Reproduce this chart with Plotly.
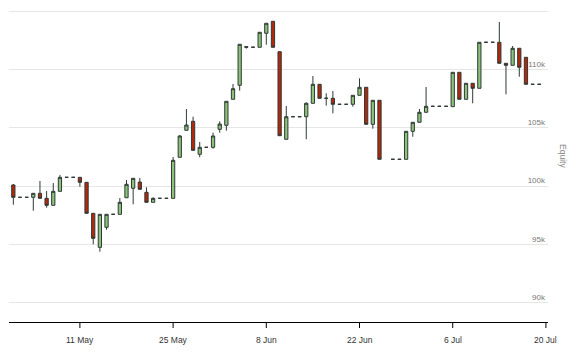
import plotly.graph_objects as go

dates = [
    "2025-05-01", "2025-05-02", "2025-05-03", "2025-05-04", "2025-05-05", "2025-05-06", "2025-05-07",
    "2025-05-08", "2025-05-09", "2025-05-10", "2025-05-11", "2025-05-12", "2025-05-13", "2025-05-14",
    "2025-05-15", "2025-05-16", "2025-05-17", "2025-05-18", "2025-05-19", "2025-05-20", "2025-05-21",
    "2025-05-22", "2025-05-23", "2025-05-24", "2025-05-25", "2025-05-26", "2025-05-27", "2025-05-28",
    "2025-05-29", "2025-05-30", "2025-05-31", "2025-06-01", "2025-06-02", "2025-06-03", "2025-06-04",
    "2025-06-05", "2025-06-06", "2025-06-07", "2025-06-08", "2025-06-09", "2025-06-10", "2025-06-11",
    "2025-06-12", "2025-06-13", "2025-06-14", "2025-06-15", "2025-06-16", "2025-06-17", "2025-06-18",
    "2025-06-19", "2025-06-20", "2025-06-21", "2025-06-22", "2025-06-23", "2025-06-24", "2025-06-25",
    "2025-06-27", "2025-06-28", "2025-06-29", "2025-06-30", "2025-07-01", "2025-07-02",
    "2025-07-03", "2025-07-04", "2025-07-05", "2025-07-06", "2025-07-07", "2025-07-08", "2025-07-09",
    "2025-07-10", "2025-07-11", "2025-07-12", "2025-07-13", "2025-07-14", "2025-07-15", "2025-07-16",
    "2025-07-17", "2025-07-18", "2025-07-19",
]

open_ = [
    100086, 99031, 99031, 99031, 99374, 98945, 98345,
    99545, 100746, 100746, 100746, 100317, 97659, 94743,
    96458, 97573, 97573, 98997, 99803, 100343, 99460,
    98602, 98945, 98945, 98945, 102461, 104777, 105549,
    102719, 103319, 103319, 104863, 105206, 107435, 108636,
    111950, 111900, 111895, 113096, 114125, 111518, 104005,
    105943, 105943, 105943, 107092, 108722, 107521, 107521,
    107006, 107006, 107006, 107778, 108465, 105291, 107350,
    102290, 102290, 102290, 104691, 105463, 106320,
    106835, 106835, 106835, 106801, 109751, 107435, 108808,
    108379, 112324, 112324, 112324, 110523, 110351, 111809,
    111037, 108722, 108722,
]

high = [
    100172, 99031, 99031, 99374, 100429, 99571, 100257,
    100943, 100746, 100746, 100746, 100317, 97659, 97573,
    97573, 97573, 98971, 100515, 100660, 100686, 99889,
    99031, 98945, 98945, 102487, 104374, 106603, 105943,
    103773, 103319, 104571, 105549, 107264, 108748, 112152,
    111950, 111900, 113181, 113953, 114125, 111518, 106861,
    105943, 105943, 107178, 109434, 108722, 107950, 108147,
    107006, 107006, 107778, 109236, 108465, 107350, 107350,
    102290, 102290, 104691, 105463, 106603, 108490,
    106835, 106835, 106835, 109751, 109751, 108808, 108808,
    112324, 112324, 112324, 114065, 110523, 112006, 111809,
    111037, 108722, 108722,
]

low = [
    98396, 99031, 99031, 97882, 98945, 98139, 98345,
    99545, 100746, 100746, 99940, 97659, 95000, 94366,
    96252, 97573, 97573, 98997, 98431, 99717, 98602,
    98602, 98945, 98945, 98945, 102461, 104777, 103062,
    102461, 103319, 103199, 104571, 104743, 107435, 108173,
    111780, 111900, 111895, 112118, 111895, 104314, 104005,
    105943, 105943, 104005, 107092, 107521, 106887, 106235,
    107006, 107006, 106801, 107778, 105291, 104914, 102290,
    102290, 102290, 102290, 104228, 105463, 106320,
    106835, 106835, 106835, 106801, 107435, 107435, 107092,
    108379, 112324, 112324, 110523, 107864, 110351, 109374,
    108722, 108722, 108722,
]

close = [
    99031, 99031, 99031, 99374, 98945, 98345, 99545,
    100746, 100746, 100746, 100317, 97659, 95515, 97573,
    97573, 97573, 98602, 100146, 100660, 99717, 98602,
    98945, 98945, 98945, 102204, 104288, 105231, 103062,
    103319, 103319, 104288, 105317, 107264, 108344, 112152,
    111900, 111900, 113181, 113953, 111895, 104314, 105943,
    105943, 105943, 107092, 108722, 107521, 107521, 107006,
    107006, 107006, 107778, 108465, 105291, 107350, 102290,
    102290, 102290, 104691, 105463, 106320, 106835,
    106835, 106835, 106835, 109751, 107435, 108808, 108379,
    112324, 112324, 112324, 110523, 110351, 111809, 110180,
    108722, 108722, 108722,
]

x_tick_vals = ["2025-05-11", "2025-05-25", "2025-06-08", "2025-06-22", "2025-07-06", "2025-07-20"]
x_tick_text = ["11 May", "25 May", "8 Jun", "22 Jun", "6 Jul", "20 Jul"]
y_tick_vals = [90000, 95000, 100000, 105000, 110000, 115000]
y_tick_text = ["90k", "95k", "100k", "105k", "110k", ""]

OUTLINE = "#2f3a36"
TICK_FONT = dict(size=8.5, color="#333")
PLOT_H = 360 - 38

fig = go.Figure(go.Candlestick(
    x=dates, open=open_, high=high, low=low, close=close,
    increasing=dict(fillcolor="#8dc27a", line=dict(color=OUTLINE, width=1)),
    decreasing=dict(fillcolor="#b3270b", line=dict(color=OUTLINE, width=1)),
    whiskerwidth=0,
    hoverinfo="skip",
))

# Draw the x ticks and labels explicitly (data-driven from the tick arrays)
shapes = []
annotations = []
for tv, tt in zip(x_tick_vals, x_tick_text):
    shapes.append(dict(type="line", xref="x", yref="paper", x0=tv, x1=tv,
                       y0=0, y1=-6 / PLOT_H, line=dict(color="#000", width=1)))
    annotations.append(dict(text=tt, xref="x", yref="paper", x=tv, y=0, yshift=-11,
                            xanchor="center", yanchor="top", showarrow=False,
                            font=TICK_FONT))

annotations.append(dict(
    text="Equity", xref="paper", yref="paper", x=1.028, y=0.515,
    showarrow=False, textangle=90, font=dict(size=8.5, color="#888"),
    xanchor="center", yanchor="middle",
))

fig.update_layout(
    width=580, height=360,
    margin=dict(l=9, r=32, t=0, b=38),
    paper_bgcolor="white", plot_bgcolor="white",
    showlegend=False,
    font=dict(family="Liberation Sans, Arial, sans-serif"),
    xaxis=dict(
        type="date",
        range=["2025-04-30 08:24", "2025-07-20 07:30"],
        showticklabels=False, ticks="",
        showline=True, linecolor="#000", linewidth=1,
        showgrid=False, zeroline=False,
        rangeslider=dict(visible=False),
        fixedrange=True,
    ),
    yaxis=dict(
        side="right",
        range=[88340, 115950],
        tickvals=y_tick_vals, ticktext=y_tick_text,
        ticklabelposition="inside top",
        showgrid=True, gridcolor="#e6e6e6", gridwidth=1,
        showline=False, zeroline=False, ticks="",
        tickfont=dict(size=8, color="#777"),
        fixedrange=True,
    ),
    shapes=shapes,
    annotations=annotations,
)

fig.write_html(
    "out.html",
    config={"displayModeBar": False},
    post_script="document.body.style.margin='0';document.body.style.overflow='hidden';",
)
